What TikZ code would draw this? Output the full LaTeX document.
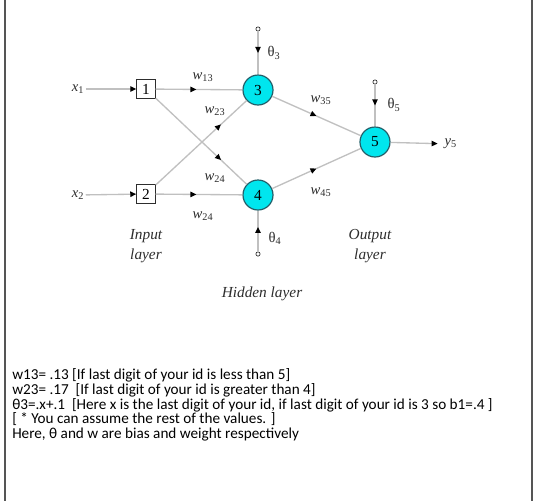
\documentclass[tikz,border=0pt]{standalone}
\usepackage{fontspec}
\setmainfont{Liberation Serif}
\newfontfamily\notefont{Carlito}
\usepackage{xcolor}
\usetikzlibrary{arrows.meta,decorations.markings}

\definecolor{edgegray}{RGB}{192,192,192}
\definecolor{unitcyan}{RGB}{0,230,238}
\definecolor{unitrim}{RGB}{35,95,105}
\definecolor{labelgray}{RGB}{45,45,45}
\definecolor{framegray}{RGB}{85,85,85}

\tikzset{
  unit/.style={circle,draw=unitrim,fill=unitcyan,line width=0.9pt,minimum size=22.5pt,inner sep=0pt,font=\fontsize{11.5}{11}\selectfont},
  inbox/.style={draw=labelgray,fill=white,minimum size=14pt,inner sep=0pt,line width=0.6pt,font=\fontsize{11.5}{11}\selectfont},
  biasdot/.style={circle,draw=labelgray,fill=white,minimum size=3.2pt,inner sep=0pt,line width=0.5pt},
  wire/.style={draw=edgegray,line width=1pt},
  tip/.style={-{Triangle[length=4.5pt,width=4pt,color=black]}},
  midtip/.style={postaction=decorate,decoration={markings,mark=at position #1 with {\arrow{Triangle[length=4.5pt,width=4pt,color=black]}}}},
  lbl/.style={text=labelgray,inner sep=1pt,font=\fontsize{11}{12}\selectfont},
  note/.style={anchor=base west,inner sep=0pt,font=\notefont\fontsize{11.4}{11}\selectfont},
}

\begin{document}
\begin{tikzpicture}[x=0.75pt,y=-0.75pt]
\useasboundingbox (0,0) rectangle (533,501);
\draw[framegray,line width=1.5pt] (4.5,0) -- (4.5,501);
\draw[framegray,line width=1.5pt] (531.5,0) -- (531.5,501);

% units
\node[inbox] (b1) at (146,89) {1};
\node[inbox] (b2) at (146,194) {2};
\node[unit] (n3) at (258,90) {3};
\node[unit] (n4) at (258,195) {4};
\node[unit] (n5) at (375,142) {5};
\node[biasdot] (t3) at (258,29) {};
\node[biasdot] (t4) at (258,254) {};
\node[biasdot] (t5) at (375,82) {};

% inputs and output
\node[lbl] (x1) at (78,89) {\textit{x}\textsubscript{1}};
\node[lbl] (x2) at (78,195) {\textit{x}\textsubscript{2}};
\node[lbl,anchor=west] (y5) at (443,144) {\textit{y}\textsubscript{5}};
\draw[wire,tip] (x1) -- (b1);
\draw[wire,tip] (x2) -- (b2);
\draw[wire,tip,shorten >=4pt] (n5) -- (y5);

% weights
\path[wire,midtip=0.47] (b1) -- (n3);
\path[wire,midtip=0.72] (b2) -- (n3);
\path[wire,midtip=0.72] (b1) -- (n4);
\path[wire,midtip=0.47] (b2) -- (n4);
\path[wire,midtip=0.5] (n3) -- (n5);
\path[wire,midtip=0.5] (n4) -- (n5);
\node[lbl] (w13) at (203,77) {\textit{w}\textsubscript{13}};
\node[lbl] (w23) at (215,111) {\textit{w}\textsubscript{23}};
\node[lbl] (w24a) at (215,178) {\textit{w}\textsubscript{24}};
\node[lbl] (w24b) at (203,216) {\textit{w}\textsubscript{24}};
\node[lbl] (w35) at (321,100) {\textit{w}\textsubscript{35}};
\node[lbl] (w45) at (321,192) {\textit{w}\textsubscript{45}};

% biases
\path[wire,midtip=0.5] (t3) -- (n3);
\path[wire,midtip=0.6] (t4) -- (n4);
\path[wire,midtip=0.5] (t5) -- (n5);
\node[lbl] (th3) at (274,53) {θ\textsubscript{3}};
\node[lbl] (th4) at (275,238) {θ\textsubscript{4}};
\node[lbl] (th5) at (394,105) {θ\textsubscript{5}};

% layer names
\node[lbl,align=center,font=\fontsize{11.5}{15}\selectfont\itshape] (inl) at (146,246) {Input\\layer};
\node[lbl,align=center,font=\fontsize{11.5}{15}\selectfont\itshape] (outl) at (370,246) {Output\\layer};
\node[lbl,font=\fontsize{11.5}{15}\selectfont\itshape] (hidl) at (262,294) {Hidden layer};

% notes
\node[note] (note1) at (12,379) {w13= .13 [If last digit of your id is less than 5]};
\node[note] (note2) at (12,394) {w23= .17 \ [If last digit of your id is greater than 4]};
\node[note] (note3) at (12,409) {θ3=.x+.1 \ [Here x is the last digit of your id, if last digit of your id is 3 so b1=.4 ]};
\node[note] (note4) at (12,423) {[ * You can assume the rest of the values. ]};
\node[note] (note5) at (12,438) {Here, θ and w are bias and weight respectively};
\end{tikzpicture}
\end{document}
